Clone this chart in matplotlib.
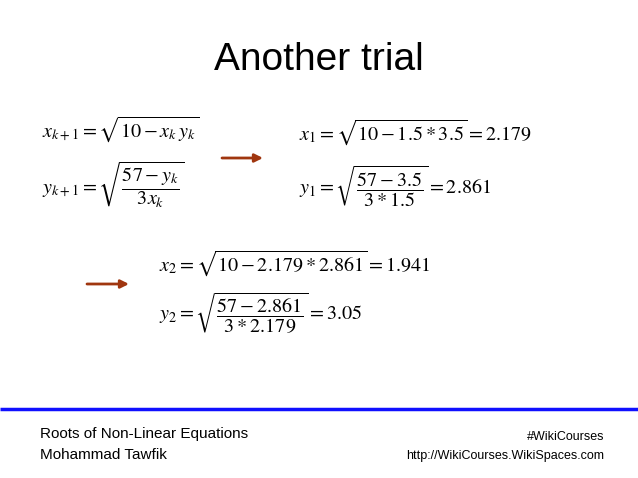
import matplotlib
matplotlib.use("Agg")
import matplotlib.pyplot as plt

plt.rcParams['mathtext.fontset'] = 'stix'
plt.rcParams['font.family'] = ['Liberation Sans', 'DejaVu Sans']

# iteration values (guess, then two iterations)
x_vals = ["1.5", "2.179", "1.941"]
y_vals = ["3.5", "2.861", "3.05"]

title = "Another trial"
footer_left = ["Roots of Non-Linear Equations", "Mohammad Tawfik"]
footer_right = ["#WikiCourses", "http://WikiCourses.WikiSpaces.com"]

W, H = 638, 478
fig = plt.figure(figsize=(W / 100, H / 100), dpi=100)
ax = fig.add_axes([0, 0, 1, 1])
ax.set_xlim(0, W)
ax.set_ylim(H, 0)
ax.axis('off')

ax.text(319, 60, title, fontsize=28, ha='center', va='center')

fs = 14.5
ax.text(42, 129, r'$x_{k+1}=\sqrt{10-x_k\,y_k}$', fontsize=fs, va='center')
ax.text(42, 185, r'$y_{k+1}=\sqrt{\dfrac{57-y_k}{3x_k}}$', fontsize=fs, va='center')

ax.text(299, 132, r'$x_1=\sqrt{10-%s*%s}=%s$' % (x_vals[0], y_vals[0], x_vals[1]),
        fontsize=fs, va='center')
ax.text(299, 186, r'$y_1=\sqrt{\dfrac{57-%s}{3*%s}}=%s$' % (y_vals[0], x_vals[0], y_vals[1]),
        fontsize=fs, va='center')

ax.text(159, 263, r'$x_2=\sqrt{10-%s*%s}=%s$' % (x_vals[1], y_vals[1], x_vals[2]),
        fontsize=fs, va='center')
ax.text(159, 313, r'$y_2=\sqrt{\dfrac{57-%s}{3*%s}}=%s$' % (y_vals[1], x_vals[1], y_vals[2]),
        fontsize=fs, va='center')

arrow_col = '#a0360f'
for (x0, x1, y) in [(222, 263, 158), (87, 129, 284)]:
    ax.annotate('', xy=(x1, y), xytext=(x0, y),
                arrowprops=dict(arrowstyle='-|>', lw=2, color=arrow_col,
                                mutation_scale=12, shrinkA=0, shrinkB=0))

ax.plot([0, W], [409, 409], color='#1010ff', lw=2.5, solid_capstyle='butt')

ax.text(40, 434, footer_left[0], fontsize=11, va='center')
ax.text(40, 455, footer_left[1], fontsize=11, va='center')
ax.text(604, 437, footer_right[0], fontsize=9, va='center', ha='right')
ax.text(604, 456, footer_right[1], fontsize=9, va='center', ha='right')

fig.savefig('out.png', dpi=100)
